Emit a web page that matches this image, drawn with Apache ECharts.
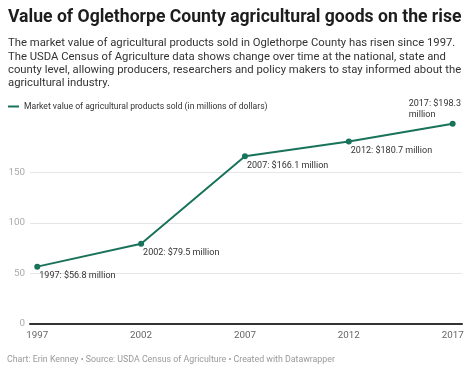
<!DOCTYPE html>
<html lang="en">
<head>
    <meta charset="UTF-8">
    <script src="https://cdn.jsdelivr.net/npm/echarts@6.0.0/dist/echarts.min.js"></script>
    <style>
        body { margin: 0; background: #fff; }
    </style>
</head>
<body>
<div id="chart" style="width: 474px;height:375px;"></div>
<script type="text/javascript">

    var years = [1997, 2002, 2007, 2012, 2017];
    var values = [56.8, 79.5, 166.1, 180.7, 198.3];
    var pointLabels = [
        "1997: $56.8 million",
        "2002: $79.5 million",
        "2007: $166.1 million",
        "2012: $180.7 million",
        "2017: $198.3\nmillion"
    ];
    var yTicks = [0, 50, 100, 150];
    var seriesName = "Market value of agricultural products sold (in millions of dollars)";

    var green = "#18735a";
    var font = "Roboto, 'Noto Sans', sans-serif";

    var points = years.map(function (y, i) {
        var last = i === years.length - 1;
        return {
            value: [y, values[i]],
            label: last ?
                { align: "left", verticalAlign: "bottom", offset: [-44, -3] } :
                { align: "left", verticalAlign: "top", offset: [2, 4] }
        };
    });

    var chart = echarts.init(document.getElementById("chart"));
    var option = {
        animation: false,
        title: [{
            text: "Value of Oglethorpe County agricultural goods on the rise",
            subtext: "The market value of agricultural products sold in Oglethorpe County has risen since 1997.\nThe USDA Census of Agriculture data shows change over time at the national, state and\ncounty level, allowing producers, researchers and policy makers to stay informed about the\nagricultural industry.",
            left: 3,
            top: 4,
            itemGap: 10,
            textStyle: { fontFamily: font, fontSize: 17.6, fontWeight: "bold", color: "#1d1d1d" },
            subtextStyle: { fontFamily: font, fontSize: 11.3, color: "#333", lineHeight: 13.3 }
        }, {
            text: "Chart: Erin Kenney • Source: USDA Census of Agriculture • Created with Datawrapper",
            left: 2,
            top: 350,
            textStyle: { fontFamily: font, fontSize: 8.8, fontWeight: "normal", color: "#999" }
        }],
        legend: {
            left: 3,
            top: 97,
            icon: "rect",
            itemWidth: 11,
            itemHeight: 2,
            itemGap: 5,
            textStyle: { fontFamily: font, fontSize: 8.6, color: "#333" },
            data: [seriesName]
        },
        grid: { left: 30, right: 12, top: 122, bottom: 51 },
        xAxis: {
            type: "value",
            min: 1996.65,
            max: 2017.45,
            axisLine: { show: true, onZero: false, lineStyle: { color: "#333", width: 2 } },
            axisTick: { show: false, customValues: years },
            axisLabel: {
                customValues: years, color: "#666", fontFamily: font, fontSize: 9.8, margin: 7,
                formatter: function (v) { return String(v); }
            },
            splitLine: { show: false }
        },
        yAxis: {
            type: "value",
            min: 0,
            max: 200,
            axisLine: { show: false },
            axisTick: { show: false, customValues: yTicks },
            axisLabel: { customValues: yTicks, color: "#aaa", fontFamily: font, fontSize: 9.8, margin: 5 },
            splitLine: { show: true, lineStyle: { color: "#e6e6e6", width: 1 } }
        },
        series: [{
            name: seriesName,
            type: "line",
            data: points,
            symbol: "circle",
            symbolSize: 6,
            itemStyle: { color: green },
            lineStyle: { color: green, width: 2 },
            label: {
                show: true,
                position: "inside",
                fontFamily: font,
                fontSize: 9,
                color: "#333",
                lineHeight: 11,
                formatter: function (p) { return pointLabels[p.dataIndex]; }
            }
        }]
    };
    chart.setOption(option);
</script>
</body>
</html>
